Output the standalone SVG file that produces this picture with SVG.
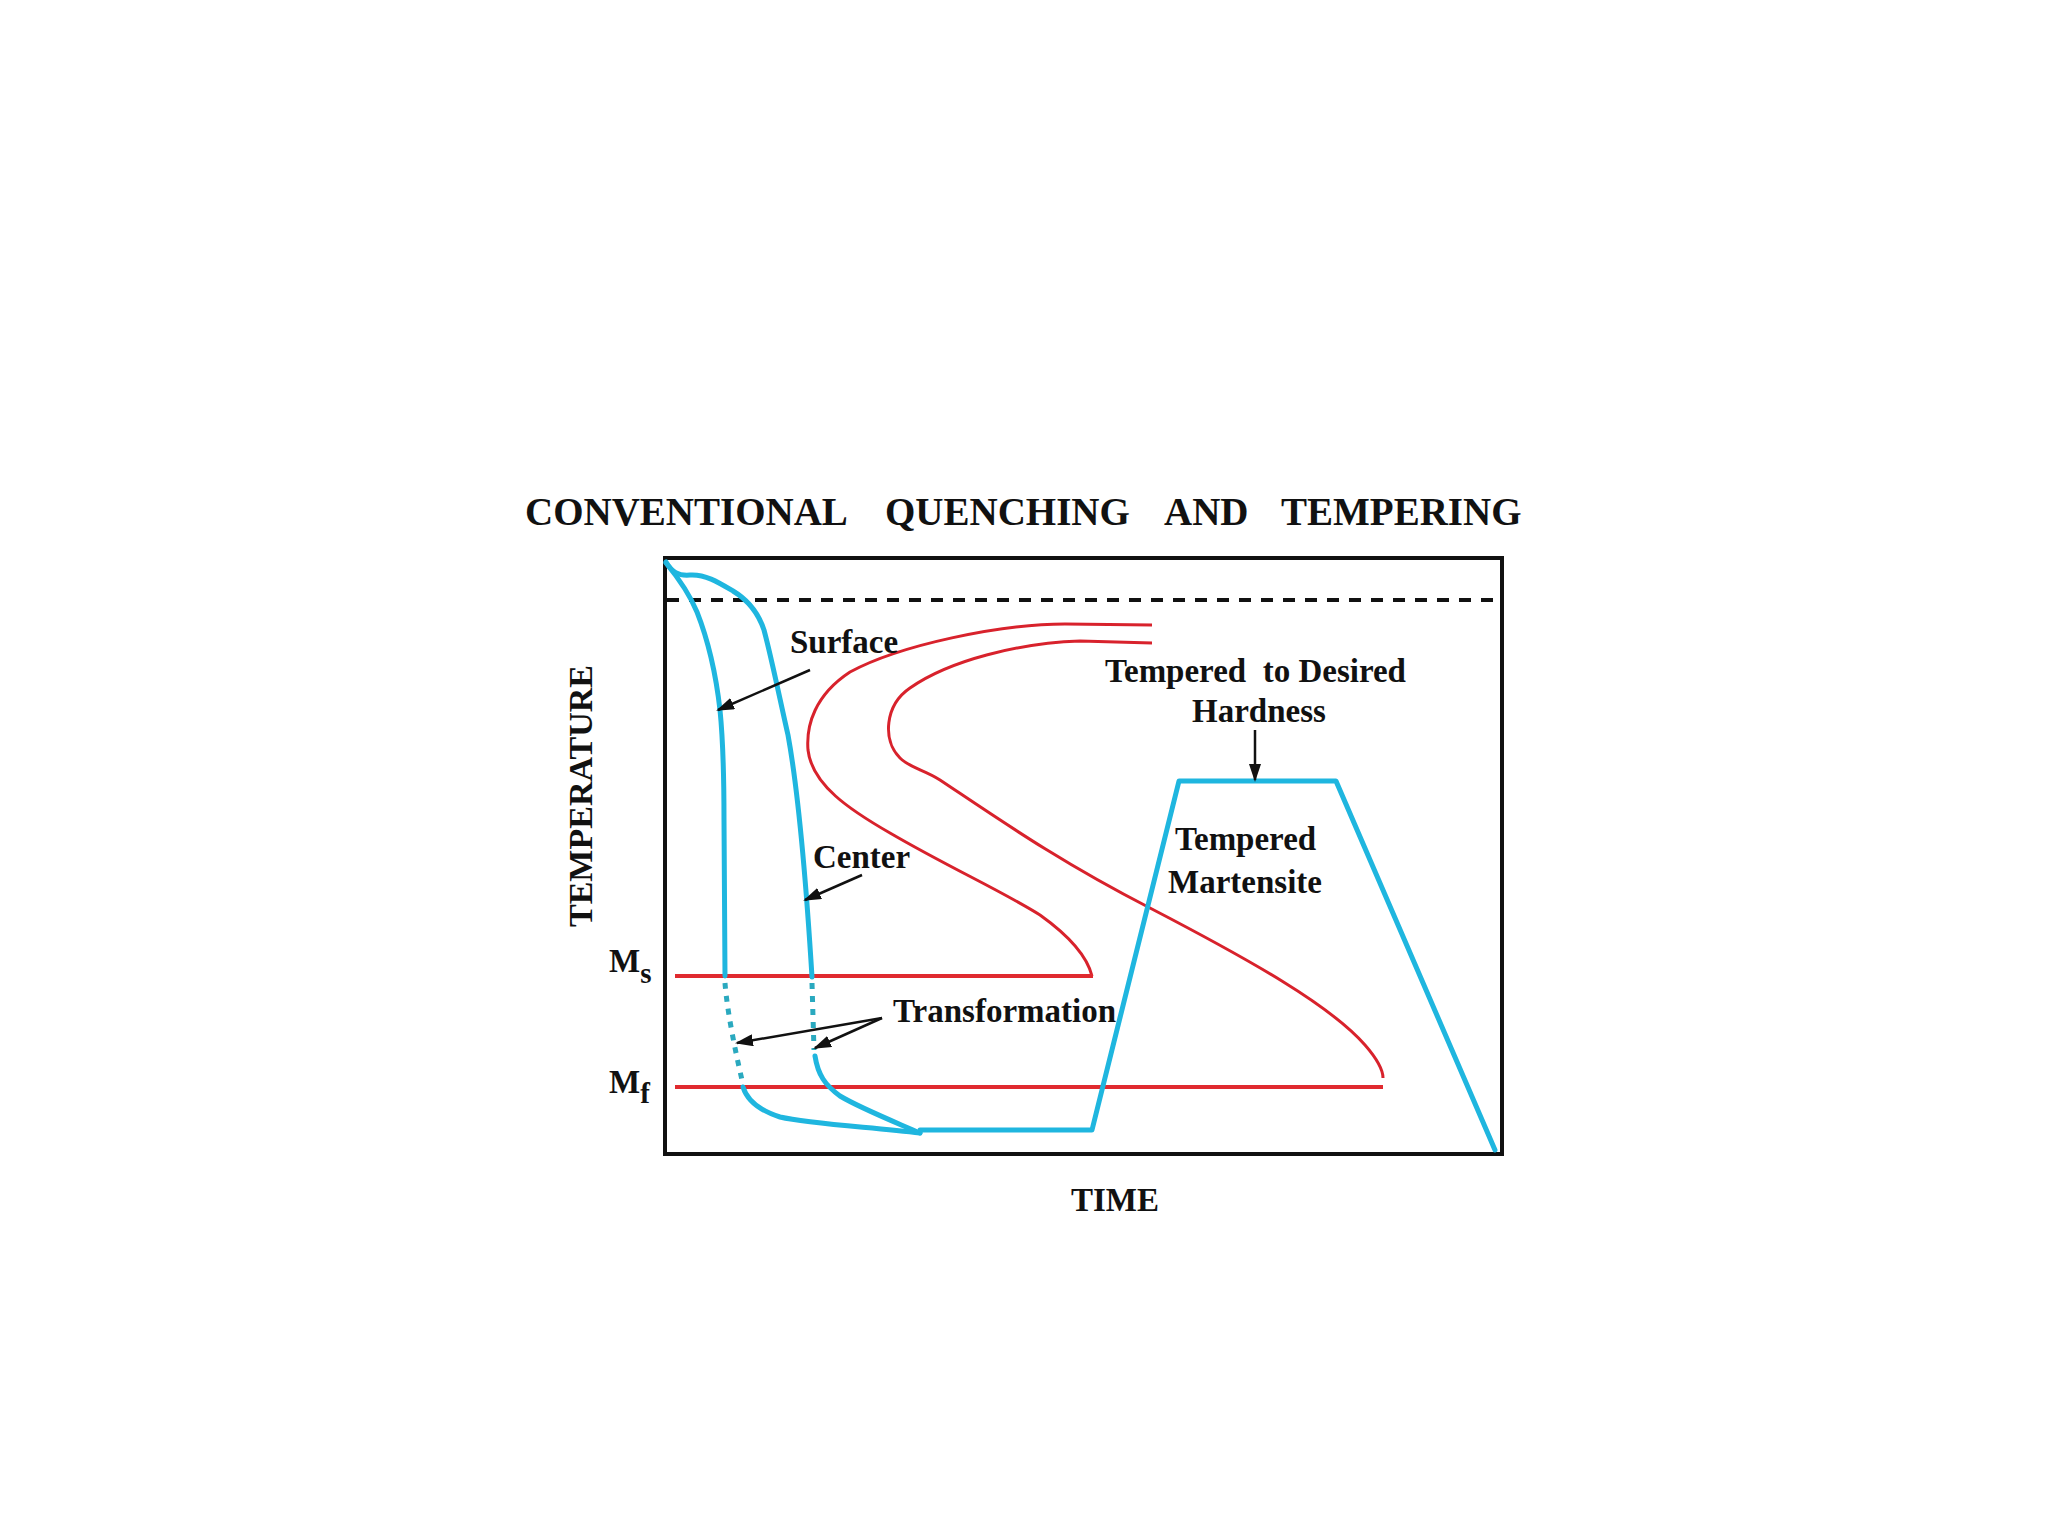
<svg xmlns="http://www.w3.org/2000/svg" width="2048" height="1536" viewBox="0 0 2048 1536">
<style>
.t{font-family:"Liberation Serif","Times New Roman",serif;font-weight:bold;fill:#111}
.cy{fill:none;stroke:#1fb6df;stroke-width:5;stroke-linejoin:round;stroke-linecap:round}
.dot{fill:none;stroke:#2aa9bf;stroke-width:5;stroke-dasharray:6 7}
.rd{fill:none;stroke:#d8222c;stroke-width:3;stroke-linejoin:round}
.rl{fill:none;stroke:#e02a2f;stroke-width:4}
.ar{fill:none;stroke:#111;stroke-width:2.5;marker-end:url(#ah)}
</style>
<defs>
<marker id="ah" markerUnits="userSpaceOnUse" markerWidth="18" markerHeight="12" refX="16" refY="6" orient="auto">
<path d="M0,0 L18,6 L0,12 z" fill="#111"/>
</marker>
</defs>
<rect width="2048" height="1536" fill="#fff"/>
<g id="title">
<text class="t" font-size="39" y="525"><tspan x="525">CONVENTIONAL</tspan><tspan x="885">QUENCHING</tspan><tspan x="1164">AND</tspan><tspan x="1281">TEMPERING</tspan></text>
</g>
<g id="frame">
<rect x="665" y="558" width="837" height="596" fill="none" stroke="#111" stroke-width="4"/>
<line x1="667" y1="600" x2="1495" y2="600" stroke="#111" stroke-width="4" stroke-dasharray="12 10"/>
</g>
<g id="axes-labels">
<text class="t" font-size="34" x="592" y="796" text-anchor="middle" transform="rotate(-90 592 796)">TEMPERATURE</text>
<text class="t" font-size="33" x="1071" y="1211">TIME</text>
<text class="t" font-size="33" x="609" y="972">M<tspan font-size="29" dy="11">s</tspan></text>
<text class="t" font-size="33" x="609" y="1093">M<tspan font-size="29" dy="10">f</tspan></text>
</g>
<g id="ttt-curves">
<path class="rd" d="M1152,625 L1065,624 C1000,624 900,645 850,672 C815,695 806,725 808,750 C812,785 850,810 890,833 C950,868 1000,890 1040,915 C1075,940 1088,960 1092,976"/>
<path class="rd" d="M1152,643 L1080,641 C1020,643 950,660 910,688 C885,705 882,740 900,758 C910,768 925,770 940,780 C1000,820 1060,862 1150,908 C1250,960 1330,1005 1365,1045 C1378,1060 1383,1070 1383,1078"/>
<line class="rl" x1="675" y1="976" x2="1093" y2="976"/>
<line class="rl" x1="675" y1="1087" x2="1383" y2="1087"/>
</g>
<g id="surface-curve">
<path class="cy" d="M666,563 C680,580 690,595 697,612 C708,640 716,675 720,710 C723,740 724,780 724,820 L725,976"/>
<path class="dot" d="M725,983 C727,1010 735,1050 742,1080"/>
<path class="cy" d="M743,1087 C747,1100 758,1110 780,1117 C810,1124 870,1127 920,1133"/>
</g>
<g id="center-curve">
<path class="cy" d="M666,562 C672,572 678,576 690,575 C705,574 718,582 733,591 C748,600 758,612 764,630 C772,660 780,700 788,735 C798,790 806,880 812,977"/>
<path class="dot" d="M812,983 L814,1050"/>
<path class="cy" d="M815,1056 C818,1075 825,1085 840,1096 C860,1108 895,1122 920,1133"/>
</g>
<g id="tempering-cycle">
<path class="cy" d="M920,1130 L1092,1130 L1179,781 L1336,781 L1495,1150"/>
</g>
<g id="labels">
<text class="t" font-size="33" x="790" y="653">Surface</text>
<text class="t" font-size="33" x="813" y="868">Center</text>
<text class="t" font-size="33" x="893" y="1022">Transformation</text>
<text class="t" font-size="33" x="1105" y="682" xml:space="preserve">Tempered  to Desired</text>
<text class="t" font-size="33" x="1192" y="722">Hardness</text>
<text class="t" font-size="33" x="1175" y="850">Tempered</text>
<text class="t" font-size="33" x="1168" y="893">Martensite</text>
</g>
<g id="connectors">
<line class="ar" x1="810" y1="670" x2="718" y2="710"/>
<line class="ar" x1="862" y1="875" x2="805" y2="900"/>
<line class="ar" x1="882" y1="1018" x2="737" y2="1043"/>
<line class="ar" x1="882" y1="1018" x2="815" y2="1048"/>
<line class="ar" x1="1255" y1="730" x2="1255" y2="780"/>
</g>
</svg>
